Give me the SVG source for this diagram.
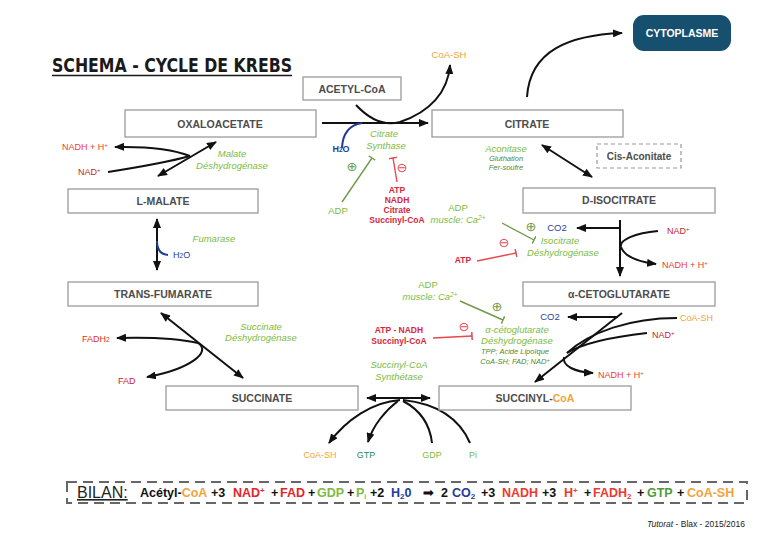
<svg xmlns="http://www.w3.org/2000/svg" width="768" height="543" viewBox="0 0 768 543">
<defs>
<style>
text{font-family:"Liberation Sans",Arial,sans-serif}
.box{fill:#fff;stroke:#9a9a9a;stroke-width:1.3}
.bt{font-size:10.5px;font-weight:bold;fill:#4d4d4d;text-anchor:middle}
.enz{font-size:9.5px;font-style:italic;fill:#7dbb42;text-anchor:middle}
.note{font-size:7.5px;font-style:italic;fill:#4f8a2e;text-anchor:middle}
.inh{font-size:8.5px;font-weight:bold;fill:#d7263d;text-anchor:middle}
.lab{font-size:9.5px}
.nad{fill:#c0272d}
.nadh{fill:#ec3b2f}
.coa{fill:#f2a33a}
.co2{fill:#2b3f9e}
.grn{fill:#7dbb42}
.gtp{fill:#1f8a55}
.sym{font-family:"DejaVu Sans",sans-serif;font-size:13px;text-anchor:middle}
.ar{fill:none;stroke:#111;stroke-width:2}
.lg{fill:none;stroke:#6f9a4a;stroke-width:1.4}
.lr{fill:none;stroke:#e5484d;stroke-width:1.4}
.bil{font-size:12.5px;font-weight:bold}
</style>
<marker id="ah" viewBox="0 0 10 8" refX="9" refY="4" markerWidth="10" markerHeight="8" orient="auto-start-reverse" markerUnits="userSpaceOnUse"><path d="M0,0 L10,4 L0,8 z" fill="#111"/></marker>
<marker id="tg" viewBox="-1 -4 2 8" refX="0" refY="0" markerWidth="2" markerHeight="8" orient="auto" markerUnits="userSpaceOnUse"><path d="M0,-4 V4" stroke="#6f9a4a" stroke-width="1.5"/></marker>
<marker id="tr" viewBox="-1 -4 2 8" refX="0" refY="0" markerWidth="2" markerHeight="8" orient="auto" markerUnits="userSpaceOnUse"><path d="M0,-4 V4" stroke="#e5484d" stroke-width="1.5"/></marker>
</defs>
<rect width="768" height="543" fill="#fff"/>

<g id="title">
<text x="52" y="72" font-size="20" font-weight="bold" fill="#1a1a1a" textLength="240" lengthAdjust="spacingAndGlyphs" style="font-family:'DejaVu Sans Condensed',sans-serif">SCHEMA - CYCLE DE KREBS</text>
<line x1="52" y1="75.5" x2="292" y2="75.5" stroke="#1a1a1a" stroke-width="1.5"/>
</g>

<g id="connectors">
<path class="ar" d="M322,123 H428" marker-end="url(#ah)"/>
<path class="ar" d="M356,105 C370,120 385,126 400,122 C430,112 448,92 450,65" marker-end="url(#ah)"/>
<path d="M342,148 Q343,126 362,123" fill="none" stroke="#1f3c96" stroke-width="2"/>
<path class="lg" d="M342,202 L372,158" marker-end="url(#tg)"/>
<path class="lr" d="M397,182 L393,158" marker-end="url(#tr)"/>
<path class="ar" d="M527,97 C530,50 570,35 622,33" marker-end="url(#ah)"/>
<path class="ar" d="M542,145 L592,177" marker-start="url(#ah)" marker-end="url(#ah)"/>
<path class="ar" d="M158,176 L216,142" marker-start="url(#ah)" marker-end="url(#ah)"/>
<path class="ar" d="M108,172 Q165,163 190,156"/>
<path class="ar" d="M190,156 Q165,146 115,147" marker-end="url(#ah)"/>
<path class="ar" d="M157,219 V270" marker-start="url(#ah)" marker-end="url(#ah)"/>
<path d="M157,241 Q157,254 168,255" fill="none" stroke="#1f3c96" stroke-width="2"/>
<path class="ar" d="M161,313 L243,378" marker-start="url(#ah)" marker-end="url(#ah)"/>
<path class="ar" d="M198,343 C180,339 150,337 117,338" marker-end="url(#ah)"/>
<path class="ar" d="M198,343 C212,352 190,369 147,377" marker-end="url(#ah)"/>
<path class="ar" d="M367,398 H430" marker-start="url(#ah)" marker-end="url(#ah)"/>
<path class="ar" d="M400,400 C372,402 346,420 329,443" marker-end="url(#ah)"/>
<path class="ar" d="M398,401 C386,410 373,425 368,442" marker-end="url(#ah)"/>
<path class="ar" d="M432,443 C430,425 420,410 403,401"/>
<path class="ar" d="M470,443 C460,420 440,404 403,400"/>
<path class="ar" d="M620,220 V276" marker-end="url(#ah)"/>
<path class="ar" d="M620,228 H577" marker-end="url(#ah)"/>
<path class="ar" d="M658,231 C635,233 619,240 621,247 C625,258 640,262 656,264" marker-end="url(#ah)"/>
<path class="lg" d="M502,223 L534,240" marker-end="url(#tg)"/>
<path class="lr" d="M477,261 L516,253" marker-end="url(#tr)"/>
<path class="ar" d="M622,313 L535,382" marker-end="url(#ah)"/>
<path class="ar" d="M618,317 H568" marker-end="url(#ah)"/>
<path class="ar" d="M677,318 C630,318 590,332 567,353"/>
<path class="ar" d="M647,333 C620,336 585,342 567,353"/>
<path class="ar" d="M564,357 C562,366 575,372 593,373" marker-end="url(#ah)"/>
<path class="lg" d="M460,301 L503,320" marker-end="url(#tg)"/>
<path class="lr" d="M433,338 L472,336" marker-end="url(#tr)"/>
</g>

<g id="acetyl-coa"><rect class="box" x="303" y="77" width="98" height="23"/><text class="bt" x="352" y="92.5">ACETYL-CoA</text></g>
<g id="oxaloacetate"><rect class="box" x="125" y="110" width="191" height="27"/><text class="bt" x="220" y="127.5">OXALOACETATE</text></g>
<g id="citrate"><rect class="box" x="432" y="110" width="191" height="27"/><text class="bt" x="527" y="127.5">CITRATE</text></g>
<g id="cytoplasme"><rect x="633" y="15" width="98" height="36" rx="11" fill="#17506f"/><text class="bt" x="682" y="36.5" style="fill:#fff">CYTOPLASME</text></g>
<g id="cis-aconitate"><rect x="597" y="144" width="84" height="24" fill="#fff" stroke="#999" stroke-width="1.2" stroke-dasharray="4,3"/><text class="bt" x="639" y="160" style="font-size:10px">Cis-Aconitate</text></g>
<g id="d-isocitrate"><rect class="box" x="523" y="188" width="192" height="25"/><text class="bt" x="619" y="204">D-ISOCITRATE</text></g>
<g id="l-malate"><rect class="box" x="68" y="189" width="190" height="24"/><text class="bt" x="163" y="204.5">L-MALATE</text></g>
<g id="trans-fumarate"><rect class="box" x="68" y="282" width="190" height="24"/><text class="bt" x="163" y="297.5">TRANS-FUMARATE</text></g>
<g id="a-cetoglutarate"><rect class="box" x="523" y="282" width="192" height="24"/><text class="bt" x="619" y="297.5">α-CETOGLUTARATE</text></g>
<g id="succinate"><rect class="box" x="166" y="386" width="192" height="24"/><text class="bt" x="262" y="401.5">SUCCINATE</text></g>
<g id="succinyl-coa"><rect class="box" x="439" y="386" width="192" height="24"/><text class="bt" x="535" y="401.5">SUCCINYL-<tspan style="fill:#f2a33a">CoA</tspan></text></g>

<g id="labels">
<text class="lab coa" x="449" y="58" text-anchor="middle">CoA-SH</text>
<text class="lab" x="341" y="152" text-anchor="middle" fill="#1f3c96" style="font-weight:bold;font-size:9px">H<tspan font-size="6.5">2</tspan>O</text>
<text class="enz" x="384" y="137">Citrate</text>
<text class="enz" x="386" y="149">Synthase</text>
<text class="sym" x="352" y="171" fill="#6f9a4a">⊕</text>
<text class="lab grn" x="338" y="214" text-anchor="middle">ADP</text>
<text class="sym" x="402" y="172" fill="#e5484d">⊖</text>
<text class="inh" x="397" y="193">ATP</text>
<text class="inh" x="397" y="203">NADH</text>
<text class="inh" x="397" y="213">Citrate</text>
<text class="inh" x="397" y="223">Succinyl-CoA</text>

<text class="enz" x="506" y="152">Aconitase</text>
<text class="note" x="506" y="161">Gluthation</text>
<text class="note" x="506" y="170">Fer-soufre</text>

<text class="lab nadh" x="62" y="150" style="font-size:9px">NADH + H<tspan font-size="6" dy="-3">+</tspan></text>
<text class="lab nad" x="78" y="175" style="font-size:9px">NAD<tspan font-size="6" dy="-3">+</tspan></text>
<text class="enz" x="232" y="157">Malate</text>
<text class="enz" x="232" y="169">Déshydrogénase</text>

<text class="enz" x="214" y="242">Fumarase</text>
<text class="lab" x="173" y="258" fill="#1f3c96" style="font-size:9px">H<tspan font-size="6.5">2</tspan>O</text>

<text class="lab" x="82" y="342" fill="#d9312b" style="font-size:9px">FADH<tspan font-size="6.5">2</tspan></text>
<text class="lab nad" x="118" y="384" style="font-size:9px">FAD</text>
<text class="enz" x="261" y="330">Succinate</text>
<text class="enz" x="261" y="341">Déshydrogénase</text>

<text class="enz" x="399" y="368">Succinyl-CoA</text>
<text class="enz" x="399" y="380">Synthétase</text>
<text class="lab coa" x="320" y="458" text-anchor="middle" style="font-size:9px">CoA-SH</text>
<text class="lab gtp" x="366" y="458" text-anchor="middle" style="font-size:9px">GTP</text>
<text class="lab grn" x="432" y="458" text-anchor="middle" style="font-size:9px">GDP</text>
<text class="lab grn" x="473" y="458" text-anchor="middle" style="font-size:9px">Pi</text>

<text class="lab grn" x="458" y="211" text-anchor="middle">ADP</text>
<text class="lab" x="458" y="223" text-anchor="middle" style="font-style:italic;fill:#7dbb42">muscle: Ca<tspan font-size="6.5" dy="-3.5">2+</tspan></text>
<text class="sym" x="531" y="231" fill="#6f9a4a">⊕</text>
<text class="sym" x="504" y="247" fill="#e5484d">⊖</text>
<text class="inh" x="463" y="263">ATP</text>
<text class="lab co2" x="557" y="231" text-anchor="middle">CO2</text>
<text class="lab nad" x="667" y="234" style="font-size:9px">NAD<tspan font-size="6" dy="-3">+</tspan></text>
<text class="lab nadh" x="662" y="268" style="font-size:9px">NADH + H<tspan font-size="6" dy="-3">+</tspan></text>
<text class="enz" x="560" y="244">Isocitrate</text>
<text class="enz" x="563" y="256">Déshydrogénase</text>

<text class="lab grn" x="428" y="288" text-anchor="middle">ADP</text>
<text class="lab" x="430" y="300" text-anchor="middle" style="font-style:italic;fill:#7dbb42">muscle: Ca<tspan font-size="6.5" dy="-3.5">2+</tspan></text>
<text class="sym" x="497" y="311" fill="#6f9a4a">⊕</text>
<text class="sym" x="464" y="331" fill="#e5484d">⊖</text>
<text class="inh" x="399" y="333">ATP - NADH</text>
<text class="inh" x="399" y="344">Succinyl-CoA</text>
<text class="lab co2" x="550" y="320" text-anchor="middle">CO2</text>
<text class="lab coa" x="680" y="321" style="font-size:9px">CoA-SH</text>
<text class="lab nad" x="652" y="338" style="font-size:9px">NAD<tspan font-size="6" dy="-3">+</tspan></text>
<text class="lab nadh" x="598" y="378" style="font-size:9px">NADH + H<tspan font-size="6" dy="-3">+</tspan></text>
<text class="enz" x="517" y="333">α-cétoglutarate</text>
<text class="enz" x="517" y="344">Déshydrogénase</text>
<text class="note" x="515" y="354">TPP; Acide Lipoïque</text>
<text class="note" x="515" y="364">CoA-SH; FAD; NAD<tspan font-size="5.5" dy="-2.5">+</tspan></text>
</g>

<g id="bilan">
<rect x="67" y="482" width="680" height="21" fill="none" stroke="#666" stroke-width="2" stroke-dasharray="10,6"/>
<text x="77" y="498" font-size="16" fill="#222" text-decoration="underline">BILAN:</text>
<text class="bil" y="497">
<tspan x="140" fill="#111">Acétyl-</tspan><tspan fill="#f2a33a">CoA</tspan>
<tspan x="211" fill="#111">+3</tspan>
<tspan x="233" fill="#e0262a">NAD</tspan><tspan fill="#e0262a" font-size="8" dy="-4">+</tspan>
<tspan x="271" dy="4" fill="#111">+</tspan><tspan x="280" fill="#e0262a">FAD</tspan>
<tspan x="308" fill="#111">+</tspan><tspan x="317" fill="#7dbb42">GDP</tspan>
<tspan x="347" fill="#111">+</tspan><tspan x="356" fill="#7dbb42">P</tspan><tspan fill="#7dbb42" font-size="7" dy="2">i</tspan>
<tspan x="370" dy="-2" fill="#111">+2</tspan>
<tspan x="391" fill="#1f3c96">H</tspan><tspan fill="#1f3c96" font-size="8" dy="2">2</tspan><tspan fill="#1f3c96" dy="-2">0</tspan>
<tspan x="423" fill="#111">➟</tspan>
<tspan x="441" fill="#111">2</tspan>
<tspan x="452" fill="#1f3c96">CO</tspan><tspan fill="#1f3c96" font-size="8" dy="2">2</tspan>
<tspan x="481" dy="-2" fill="#111">+3</tspan>
<tspan x="502" fill="#ec3b2f">NADH</tspan>
<tspan x="542" fill="#111">+3</tspan>
<tspan x="564" fill="#ec3b2f">H</tspan><tspan fill="#ec3b2f" font-size="8" dy="-4">+</tspan>
<tspan x="584" dy="4" fill="#111">+</tspan><tspan x="593" fill="#ec3b2f">FADH</tspan><tspan fill="#ec3b2f" font-size="8" dy="2">2</tspan>
<tspan x="637" dy="-2" fill="#111">+</tspan><tspan x="647" fill="#4f9a3a">GTP</tspan>
<tspan x="677" fill="#111">+</tspan><tspan x="687" fill="#f2a33a">CoA-SH</tspan>
</text>
</g>

<g id="footer">
<text x="745" y="527" font-size="8.5" fill="#222" text-anchor="end"><tspan font-style="italic">Tutorat</tspan> - Blax - 2015/2016</text>
</g>
</svg>
